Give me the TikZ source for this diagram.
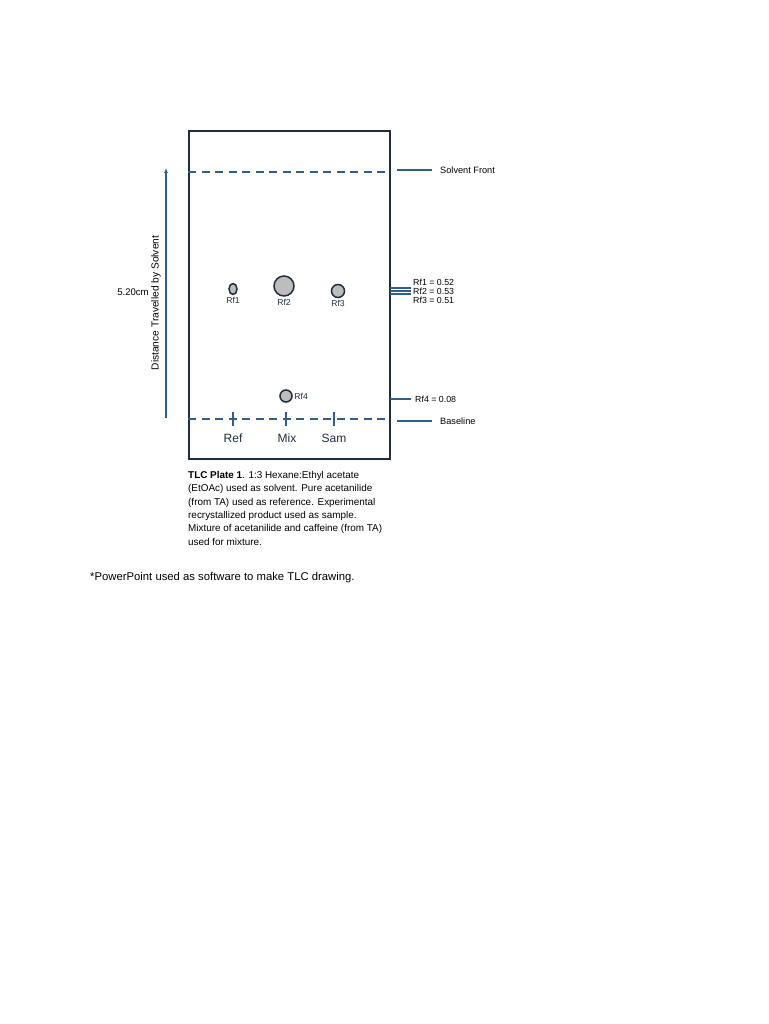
\documentclass[tikz,border=0pt]{standalone}
\usepackage{fontspec}
\setmainfont{Liberation Sans}
\usetikzlibrary{shapes.geometric,arrows.meta,positioning}
\definecolor{plateline}{HTML}{1F2E3D}
\definecolor{tlcblue}{HTML}{2F5F8A}
\definecolor{spotgray}{HTML}{BDBDBD}

\begin{document}
\begin{tikzpicture}[x=1pt, y=-1pt,
    plate/.style={draw=plateline, line width=1.8pt, minimum width=201pt, minimum height=328pt, anchor=north west, inner sep=0pt},
    solvline/.style={draw=tlcblue, line width=1.8pt, dash pattern=on 8pt off 5.5pt},
    lanetick/.style={draw=tlcblue, line width=1.6pt},
    lane/.style={font=\fontsize{12}{14}\selectfont, text=plateline},
    spot/.style={ellipse, draw=plateline, fill=spotgray, line width=1.5pt, inner sep=0pt},
    spotlbl/.style={font=\fontsize{8.6}{10}\selectfont, inner sep=1pt, text=plateline},
    leader/.style={draw=tlcblue, line width=1.3pt},
    rflbl/.style={font=\fontsize{8.8}{10}\selectfont, anchor=west, inner sep=0pt},
    sidelbl/.style={font=\fontsize{9.2}{11}\selectfont, anchor=west, inner xsep=8pt, inner ysep=0pt},
    arrow/.style={-{Latex[length=5pt,width=4pt]}, draw=tlcblue, line width=1.1pt}
]
    \useasboundingbox (0,0) rectangle (768,1024);

    % plate and solvent lines
    \node (plate) [plate] at (188,130) {};
    \coordinate (front-l) at (188,172);
    \coordinate (front-r) at (389,172);
    \coordinate (base-l) at (188,419);
    \coordinate (base-r) at (389,419);
    \draw [solvline] (front-l) -- (front-r);
    \draw [solvline] (base-l) -- (base-r);

    % lanes
    \coordinate (ref) at (233,419);
    \coordinate (mix) at (286,419);
    \coordinate (sam) at (334,419);
    \draw [lanetick] (ref) ++(0,-7) -- ++(0,14);
    \draw [lanetick] (mix) ++(0,-7) -- ++(0,14);
    \draw [lanetick] (sam) ++(0,-7) -- ++(0,14);
    \node (refname) [lane] at (233,438) {Ref};
    \node (mixname) [lane] at (287,438) {Mix};
    \node (samname) [lane] at (334,438) {Sam};

    % spots
    \node (rf1) [spot, minimum width=8pt, minimum height=11pt] at (233,289) {};
    \node (rf2) [spot, minimum size=20pt] at (284,286) {};
    \node (rf3) [spot, minimum size=13pt] at (338,291) {};
    \node (rf4) [spot, minimum size=12pt] at (286,396) {};
    \node [spotlbl, below=1pt of rf1] {Rf1};
    \node [spotlbl, below=1pt of rf2] {Rf2};
    \node [spotlbl, below=1pt of rf3] {Rf3};
    \node [spotlbl, right=0.5pt of rf4] {Rf4};

    % right side labels
    \coordinate (sf-end) at (397,170);
    \coordinate (bl-end) at (397,421);
    \node (sflbl) [sidelbl] at (432,170) {Solvent Front};
    \node (bllbl) [sidelbl] at (432,421) {Baseline};
    \draw [leader] (sf-end) -- (sflbl.west);
    \draw [leader] (bl-end) -- (bllbl.west);

    \coordinate (rf1-end) at (390,288);
    \coordinate (rf2-end) at (390,291);
    \coordinate (rf3-end) at (390,294);
    \coordinate (rf4-end) at (390,399);
    \node (rf1val) [rflbl] at (413,282) {Rf1 = 0.52};
    \node (rf2val) [rflbl] at (413,291) {Rf2 = 0.53};
    \node (rf3val) [rflbl] at (413,300.5) {Rf3 = 0.51};
    \node (rf4val) [rflbl] at (415,399) {Rf4 = 0.08};
    \draw [leader] (rf1-end) -- (411,288);
    \draw [leader] (rf2-end) -- (411,291);
    \draw [leader] (rf3-end) -- (411,294);
    \draw [leader] (rf4-end) -- ([xshift=-4pt]rf4val.west);

    % distance arrow
    \coordinate (dist-bot) at (166,418);
    \coordinate (dist-top) at (166,168);
    \draw [arrow] (dist-bot) -- (dist-top);
    \node (distlbl) [rotate=90, font=\fontsize{10.2}{12}\selectfont] at (156,303) {Distance Travelled by Solvent};
    \node (distval) [font=\fontsize{9.6}{11}\selectfont] at (133,292) {5.20cm};

    % caption and note
    \node (caption) [anchor=north west, align=left, inner sep=0pt,
        font=\fontsize{9.9}{13.4}\selectfont] at (188,471)
        {\textbf{TLC Plate 1}. 1:3 Hexane:Ethyl acetate\\
         (EtOAc) used as solvent. Pure acetanilide\\
         (from TA) used as reference. Experimental\\
         recrystallized product used as sample.\\
         Mixture of acetanilide and caffeine (from TA)\\
         used for mixture.};
    \node (note) [anchor=west, inner sep=0pt, font=\fontsize{11.3}{13}\selectfont] at (90,578)
        {*PowerPoint used as software to make TLC drawing.};
\end{tikzpicture}
\end{document}
